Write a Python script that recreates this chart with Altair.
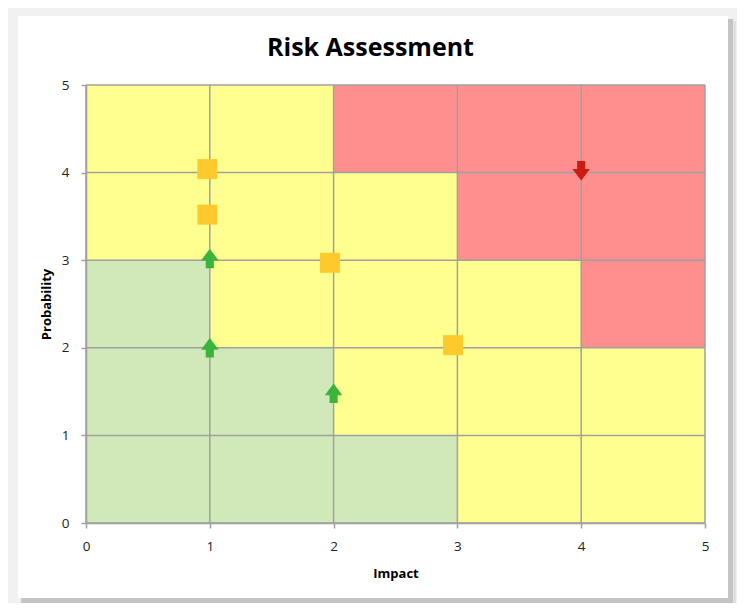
import altair as alt
import pandas as pd

# ---- data ----
ticks = [0, 1, 2, 3, 4, 5]

# risk matrix cells (lower-left corners) and their zone
cell_x = [0, 1, 2, 3, 4,  0, 1, 2, 3, 4,  0, 1, 2, 3, 4,  0, 1, 2, 3, 4,  0, 1, 2, 3, 4]
cell_y = [4, 4, 4, 4, 4,  3, 3, 3, 3, 3,  2, 2, 2, 2, 2,  1, 1, 1, 1, 1,  0, 0, 0, 0, 0]
cell_zone = ["yellow", "yellow", "red", "red", "red",
             "yellow", "yellow", "yellow", "red", "red",
             "green", "yellow", "yellow", "yellow", "red",
             "green", "green", "yellow", "yellow", "yellow",
             "green", "green", "green", "yellow", "yellow"]

# risks (orange squares)
sq_x = [0.98, 0.98, 1.97, 2.965]
sq_y = [4.04, 3.52, 2.97, 2.03]

# improving risks (green up arrows)
up_x = [1.0, 1.0, 2.0]
up_y = [3.02, 2.0, 1.48]

# worsening risks (red down arrows)
down_x = [4.0]
down_y = [4.02]

title_text = ["Risk Assessment"]

zones = ["green", "yellow", "red"]
zone_colors = ["#d1e9b9", "#ffff8f", "#ff8f8f"]

W, H = 619, 438
FONT = "Open Sans"

cells = pd.DataFrame({
    "x0": cell_x, "y0": cell_y,
    "x1": [v + 1 for v in cell_x], "y1": [v + 1 for v in cell_y],
    "zone": cell_zone,
})
sq = pd.DataFrame({"x": sq_x, "y": sq_y})
up = pd.DataFrame({"x": up_x, "y": up_y})
down = pd.DataFrame({"x": down_x, "y": down_y})
tk = pd.DataFrame({"t": ticks})

xscale = alt.Scale(domain=[0, 5], nice=False, zero=False)
yscale = alt.Scale(domain=[0, 5], nice=False, zero=False)

axis_common = dict(
    values=ticks, format="d", labelFlush=False, grid=False,
    domainColor="#a0a0a0", domainWidth=1.5,
    tickColor="#a0a0a0", tickSize=5, tickWidth=1.5,
    labelFont=FONT, labelFontSize=13.5, labelColor="#222222",
    titleFont=FONT, titleFontSize=13, titleFontWeight="bold", titleColor="#000000",
    zindex=1,
)

one = alt.Data(values=[{}])

# card background with shadow (decoration)
shadow2 = alt.Chart(one).mark_rect(color="#e0e0e2").encode(
    x=alt.value(-63), x2=alt.value(650), y=alt.value(-64), y2=alt.value(522))
shadow1 = alt.Chart(one).mark_rect(color="#c4c4c4").encode(
    x=alt.value(-65), x2=alt.value(647), y=alt.value(-66), y2=alt.value(519))
card = alt.Chart(one).mark_rect(color="#ffffff").encode(
    x=alt.value(-68), x2=alt.value(642), y=alt.value(-69), y2=alt.value(513))

title = alt.Chart(pd.DataFrame({"t": title_text})).mark_text(
    font=FONT, fontSize=25, fontWeight="bold", color="#000000",
    align="center", baseline="alphabetic").encode(
    text="t:N", x=alt.value(284.5), y=alt.value(-29))

cell_layer = alt.Chart(cells).mark_rect().encode(
    x=alt.X("x0:Q", scale=xscale, title="Impact",
            axis=alt.Axis(labelPadding=11, titlePadding=15, **axis_common)),
    x2="x1:Q",
    y=alt.Y("y0:Q", scale=yscale, title="Probability",
            axis=alt.Axis(labelPadding=12, titlePadding=8, **axis_common)),
    y2="y1:Q",
    color=alt.Color("zone:N", scale=alt.Scale(domain=zones, range=zone_colors), legend=None),
)

vgrid = alt.Chart(tk).mark_rule(color="#a0a0a0", strokeWidth=1.5).encode(
    x=alt.X("t:Q", scale=xscale))
hgrid = alt.Chart(tk).mark_rule(color="#a0a0a0", strokeWidth=1.5).encode(
    y=alt.Y("t:Q", scale=yscale))

squares = alt.Chart(sq).mark_point(shape="square", filled=True, size=400,
                                   color="#fdc92c", opacity=1).encode(
    x=alt.X("x:Q", scale=xscale), y=alt.Y("y:Q", scale=yscale))

up_path = "M0,-1 L0.9,0.2 L0.42,0.2 L0.42,1 L-0.42,1 L-0.42,0.2 L-0.9,0.2 Z"
down_path = "M0,1 L0.9,-0.2 L0.42,-0.2 L0.42,-1 L-0.42,-1 L-0.42,-0.2 L-0.9,-0.2 Z"

ups = alt.Chart(up).mark_point(shape=up_path, filled=True, size=380,
                               color="#3bb43b", opacity=1).encode(
    x=alt.X("x:Q", scale=xscale), y=alt.Y("y:Q", scale=yscale))
downs = alt.Chart(down).mark_point(shape=down_path, filled=True, size=380,
                                   color="#cc1b12", opacity=1).encode(
    x=alt.X("x:Q", scale=xscale), y=alt.Y("y:Q", scale=yscale))

chart = alt.layer(
    shadow2, shadow1, card, title, cell_layer, vgrid, hgrid, squares, ups, downs
).properties(
    width=W, height=H,
    padding={"left": 78, "top": 77, "right": 32, "bottom": 80},
    autosize=alt.AutoSizeParams(type="none"),
    background="#f1f1f3",
).configure_view(strokeWidth=0)

chart.save("out.html", embed_options={"renderer": "svg", "actions": False})
